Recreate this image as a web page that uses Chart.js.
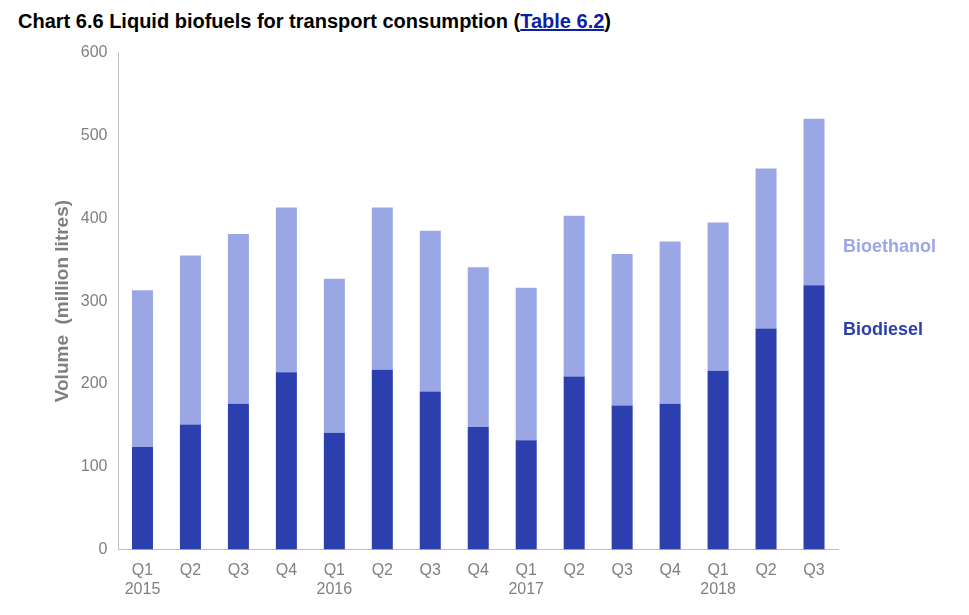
<!DOCTYPE html>
<html>
<head>
<meta charset="utf-8">
<script src="https://cdn.jsdelivr.net/npm/chart.js@4/dist/chart.umd.min.js"></script>
<style>
body { margin: 0; background: #fff; font-family: "Liberation Sans", Arial, sans-serif; }
#title { position: absolute; left: 18px; top: 10px; font-size: 20px; font-weight: bold; color: #000; }
#title a { color: #0b1fa8; text-decoration: underline; }
#wrap { position: absolute; left: 0; top: 40px; width: 969px; height: 575px; }
</style>
</head>
<body>
<div id="title">Chart 6.6 Liquid biofuels for transport consumption (<a href="#">Table 6.2</a>)</div>
<div id="wrap"><canvas id="c"></canvas></div>
<script>
const quarters = ["Q1","Q2","Q3","Q4","Q1","Q2","Q3","Q4","Q1","Q2","Q3","Q4","Q1","Q2","Q3"];
const years = ["2015","","","","2016","","","","2017","","","","2018","",""];
const biodiesel = [124, 151, 176, 214, 141, 217, 191, 148, 132, 209, 174, 176, 216, 267, 319];
const bioethanol = [189, 204, 205, 199, 186, 196, 194, 193, 184, 194, 183, 196, 179, 193, 201];

const labels = quarters.map((q, i) => [q, years[i]]);
const dark = "#2b3fae";
const light = "#9ba7e5";

const sideLabels = {
	id: "sideLabels",
	afterDraw(chart) {
		const ctx = chart.ctx;
		const y = chart.scales.y;
		const x = chart.chartArea.right + 5;
		ctx.save();
		ctx.font = "bold 18px 'Liberation Sans', Arial, sans-serif";
		ctx.textBaseline = "middle";
		ctx.fillStyle = light;
		ctx.fillText("Bioethanol", x, y.getPixelForValue(365));
		ctx.fillStyle = dark;
		ctx.fillText("Biodiesel", x, y.getPixelForValue(265));
		ctx.restore();
	}
};

new Chart(document.getElementById("c"), {
	type: "bar",
	data: {
		labels: labels,
		datasets: [
			{label: "Biodiesel", data: biodiesel, backgroundColor: dark, categoryPercentage: 0.6, barPercentage: 0.73},
			{label: "Bioethanol", data: bioethanol, backgroundColor: light, categoryPercentage: 0.6, barPercentage: 0.73},
		],
	},
	options: {
		responsive: true,
		maintainAspectRatio: false,
		animation: false,
		layout: {padding: {left: 47, right: 131, top: 11, bottom: 13}},
		plugins: {legend: {display: false}, tooltip: {enabled: false}},
		scales: {
			x: {
				stacked: true,
				grid: {display: false},
				border: {color: "#bfbfbf"},
				ticks: {color: "#7f7f7f", font: {size: 16}, maxRotation: 0, autoSkip: false},
			},
			y: {
				stacked: true,
				min: 0, max: 600,
				ticks: {stepSize: 100, color: "#7f7f7f", font: {size: 16}},
				grid: {display: false},
				border: {color: "#bfbfbf"},
				title: {display: true, text: "Volume  (million litres)", color: "#7f7f7f", font: {size: 19, weight: "bold"}},
			},
		},
	},
	plugins: [sideLabels],
});
</script>
</body>
</html>
